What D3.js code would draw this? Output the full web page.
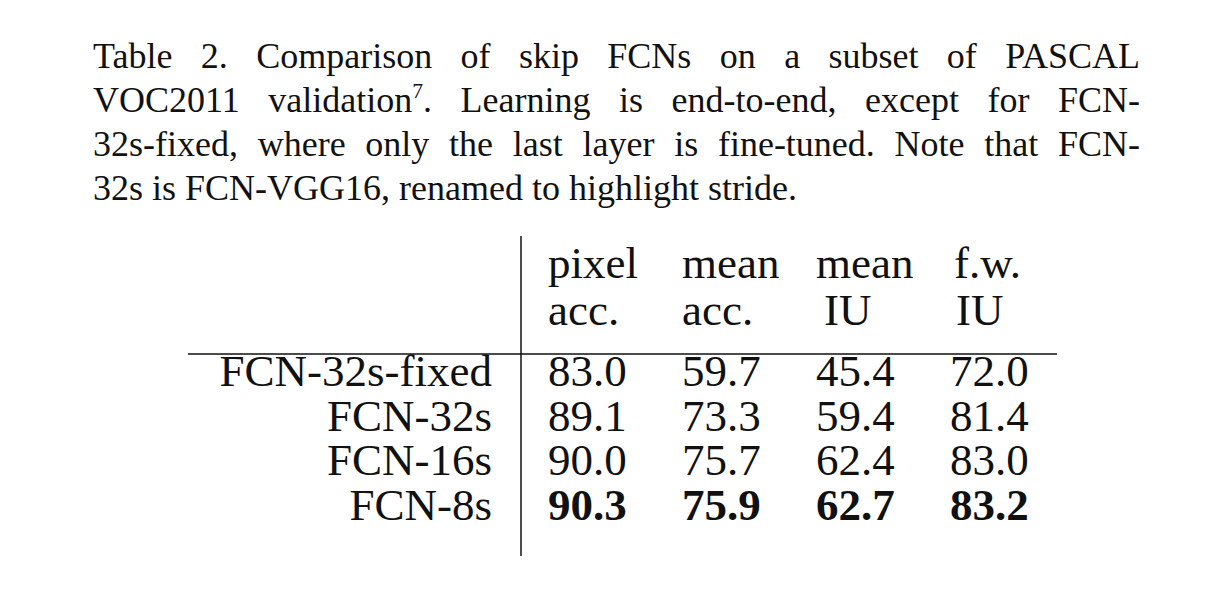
<!DOCTYPE html>
<html><head><meta charset="utf-8">
<script src="https://cdn.jsdelivr.net/npm/d3@7"></script>
<style>body{margin:0;background:#fff}text{font-family:"Liberation Serif","DejaVu Serif",serif;fill:#111}</style>
</head><body><svg id="c" width="1216" height="596"></svg>
<script>
const captionLines = [
  "Table 2.  Comparison of skip FCNs on a subset of PASCAL",
  "VOC2011 validation^7. Learning is end-to-end, except for FCN-",
  "32s-fixed, where only the last layer is fine-tuned. Note that FCN-",
  "32s is FCN-VGG16, renamed to highlight stride."
];
const headerTop = ["pixel","mean","mean","f.w."];
const headerBottom = ["acc.","acc.","IU","IU"];
const rowLabels = ["FCN-32s-fixed","FCN-32s","FCN-16s","FCN-8s"];
const pixelAcc = [83.0, 89.1, 90.0, 90.3];
const meanAcc = [59.7, 73.3, 75.7, 75.9];
const meanIU = [45.4, 59.4, 62.4, 62.7];
const fwIU = [72.0, 81.4, 83.0, 83.2];
const boldRow = "FCN-8s";

const svg = d3.select("#c");
const fs = 36, tfs = 45;
const left = 93, right = 1140;
const capY = d3.scalePoint().domain(d3.range(captionLines.length)).range([68,200]);

captionLines.forEach((line,i)=>{
  const words = line.split(/\s+/);
  const g = svg.append("g");
  const nodes = words.map(w=>{
    const t = g.append("text").attr("font-size",fs).attr("y",capY(i));
    if (w.includes("^")) {
      const [a,b] = w.split("^"); const m = b.match(/^(\d+)(.*)$/);
      t.append("tspan").text(a);
      t.append("tspan").attr("font-size",fs*0.6).attr("dy",-14).text(m[1]);
      t.append("tspan").attr("dy",14).text(m[2]);
    } else t.text(w);
    return t;
  });
  const widths = nodes.map(n=>n.node().getComputedTextLength());
  const total = d3.sum(widths);
  const last = i===captionLines.length-1;
  let gap = last ? fs*0.25 : (right-left-total)/(words.length-1);
  let x = left;
  nodes.forEach((n,j)=>{ n.attr("x",x); x += widths[j]+gap; });
});

const colX = d3.scalePoint().domain(d3.range(4)).range([548,950]);
const rowY = d3.scalePoint().domain(rowLabels).range([386,520]);
const cols = [pixelAcc, meanAcc, meanIU, fwIU];

headerTop.forEach((h,j)=>svg.append("text").attr("x",colX(j)+(j===3?4:0)).attr("y",278).attr("font-size",tfs).text(h));
headerBottom.forEach((h,j)=>svg.append("text").attr("x",colX(j)+(j===2?8:j===3?6:0)).attr("y",325).attr("font-size",tfs).text(h));

rowLabels.forEach((r,i)=>{
  svg.append("text").attr("x",492).attr("y",rowY(r)).attr("font-size",tfs).attr("text-anchor","end").text(r);
  cols.forEach((c,j)=>{
    svg.append("text").attr("x",colX(j)).attr("y",rowY(r)).attr("font-size",tfs)
      .attr("font-weight", r===boldRow?"bold":"normal").text(c[i].toFixed(1));
  });
});

svg.append("line").attr("x1",188).attr("x2",1057).attr("y1",354).attr("y2",354).attr("stroke","#111").attr("stroke-width",1.5);
svg.append("line").attr("x1",521).attr("x2",521).attr("y1",236).attr("y2",556).attr("stroke","#111").attr("stroke-width",1.5);
</script></body></html>
